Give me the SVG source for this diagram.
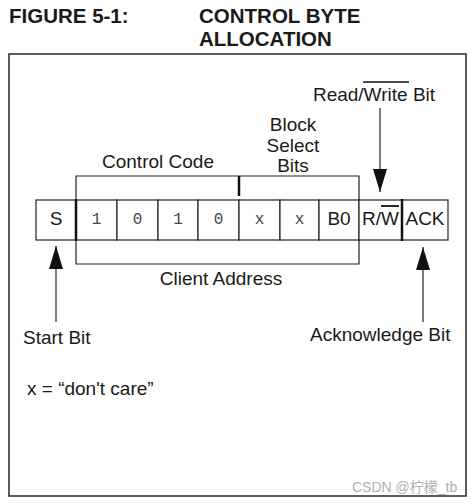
<svg xmlns="http://www.w3.org/2000/svg" width="472" height="504" viewBox="0 0 472 504">
<style>
.t{font-family:"Liberation Sans",Arial,sans-serif;fill:#1a1a1a}
.title{font-family:"Liberation Sans",Arial,sans-serif;font-weight:bold;font-size:20.5px;fill:#1a1a1a}
.lbl{font-size:19px}
.mono{font-family:"Liberation Mono","Courier New",monospace;font-size:16px;fill:#444}
.cell{fill:#fff;stroke:#222;stroke-width:1.2}
.ln{stroke:#222;stroke-width:1.2;fill:none}
.thick{stroke:#111;stroke-width:2.5}
</style>
<defs>
<marker id="ah" viewBox="0 0 23 14" refX="23" refY="7" markerWidth="23" markerHeight="14" markerUnits="userSpaceOnUse" orient="auto">
<path d="M0,0 L23,7 L0,14 Z" fill="#111"/>
</marker>
</defs>
<rect width="472" height="504" fill="#fff"/>
<g id="title">
<text class="title" x="9" y="23">FIGURE 5-1:</text>
<text class="title" x="199" y="23">CONTROL BYTE</text>
<text class="title" x="199" y="46">ALLOCATION</text>
</g>
<rect id="frame" x="9" y="54" width="457" height="442" fill="none" stroke="#333" stroke-width="1.6"/>
<g id="cells">
<rect class="cell" x="36" y="200" width="40" height="40"/>
<rect class="cell" x="76" y="200" width="41" height="40"/>
<rect class="cell" x="117" y="200" width="41" height="40"/>
<rect class="cell" x="158" y="200" width="40" height="40"/>
<rect class="cell" x="198" y="200" width="41" height="40"/>
<rect class="cell" x="239" y="200" width="41" height="40"/>
<rect class="cell" x="280" y="200" width="39" height="40"/>
<rect class="cell" x="319" y="200" width="40" height="40"/>
<rect class="cell" x="359" y="200" width="43" height="40"/>
<rect class="cell" x="402" y="200" width="46" height="40"/>
<line class="thick" x1="76" y1="199" x2="76" y2="241"/>
<line class="thick" x1="402" y1="199" x2="402" y2="241"/>
<text class="t lbl" x="56" y="225" text-anchor="middle">S</text>
<text class="mono" x="96.5" y="224" text-anchor="middle">1</text>
<text class="mono" x="137.5" y="224" text-anchor="middle">0</text>
<text class="mono" x="178" y="224" text-anchor="middle">1</text>
<text class="mono" x="218.5" y="224" text-anchor="middle">0</text>
<text class="mono" x="259.5" y="224" text-anchor="middle">x</text>
<text class="mono" x="299.5" y="224" text-anchor="middle">x</text>
<text class="t lbl" x="339" y="225" text-anchor="middle">B0</text>
<text class="t lbl" x="380.5" y="225" text-anchor="middle">R/W</text>
<line x1="381" y1="206" x2="399" y2="206" stroke="#111" stroke-width="1.8"/>
<text class="t lbl" x="425" y="225" text-anchor="middle">ACK</text>
</g>
<g id="brackets">
<polyline class="ln" points="76,200 76,176 359,176 359,200"/>
<line class="thick" x1="239" y1="176" x2="239" y2="196"/>
<polyline class="ln" points="76,240 76,264 359,264 359,240"/>
</g>
<g id="labels">
<text class="t lbl" x="158" y="168" text-anchor="middle">Control Code</text>
<text class="t lbl" x="293" y="131" text-anchor="middle">Block</text>
<text class="t lbl" x="293" y="152" text-anchor="middle">Select</text>
<text class="t lbl" x="293" y="172" text-anchor="middle">Bits</text>
<text class="t lbl" x="221" y="285" text-anchor="middle">Client Address</text>
<text class="t lbl" x="374" y="101" text-anchor="middle">Read/Write Bit</text>
<line x1="363" y1="82" x2="409" y2="82" stroke="#111" stroke-width="1.6"/>
<text class="t lbl" x="23" y="344">Start Bit</text>
<text class="t lbl" x="310" y="341">Acknowledge Bit</text>
<text class="t lbl" x="27" y="395">x = “don't care”</text>
<text x="352" y="492" font-family="'Liberation Sans','Noto Sans CJK SC',sans-serif" font-size="14" fill="#b0b0b0">CSDN @柠檬_tb</text>
</g>
<g id="connectors">
<line class="ln" x1="380" y1="108" x2="380" y2="192" marker-end="url(#ah)"/>
<line class="ln" x1="56" y1="322" x2="56" y2="246" marker-end="url(#ah)"/>
<line class="ln" x1="423" y1="322" x2="423" y2="247" marker-end="url(#ah)"/>
</g>
</svg>
